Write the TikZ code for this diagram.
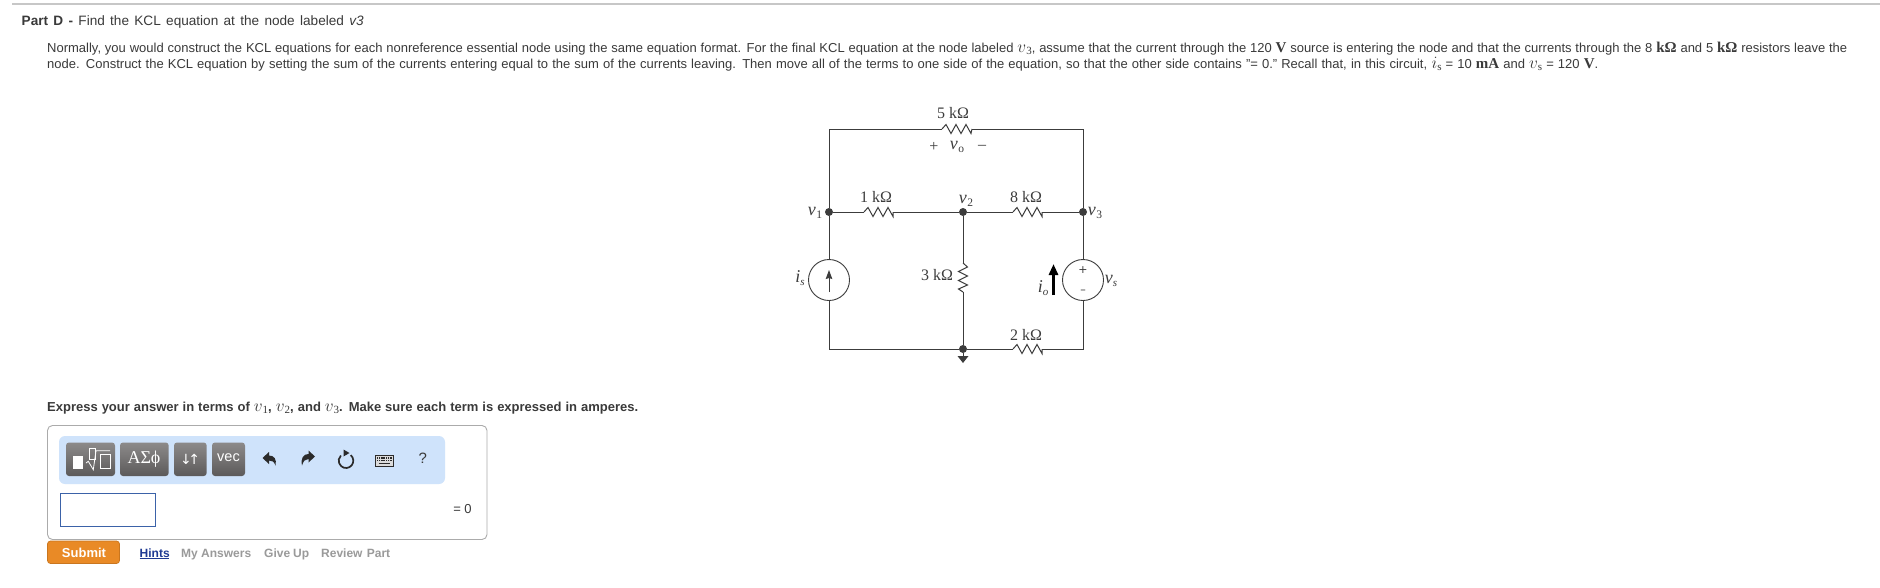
\documentclass[tikz,border=0pt]{standalone}
\usepackage{fontspec}
\setmainfont{Liberation Sans}
\newfontfamily\cirfont{Liberation Serif}
\newfontfamily\symfont{DejaVu Sans}
\usetikzlibrary{arrows.meta}
\DeclareMathSizes{16}{17.28}{12}{10}
\definecolor{bodyc}{HTML}{3A3A3A}
\definecolor{wirec}{HTML}{3C3C3C}
\definecolor{barc}{HTML}{CFE3FB}
\definecolor{frame}{HTML}{ABABAB}
\definecolor{btnT}{HTML}{8C8A8A}
\definecolor{btnB}{HTML}{5C5A5A}
\definecolor{inpc}{HTML}{3B62A8}
\definecolor{subc}{HTML}{E98A26}
\definecolor{subb}{HTML}{C9761F}
\definecolor{linkc}{HTML}{1F3A93}
\definecolor{greyt}{HTML}{9A9A9A}
\definecolor{iconc}{HTML}{2B2B2B}
\newcommand{\fs}[1]{\fontsize{#1}{#1}\selectfont}
\newcommand{\bse}[1]{{\cirfont\bfseries\fs{15}#1}}
\newcommand{\mv}[1]{{\fs{16}$#1$}}
\newcommand{\rsub}[1]{\raisebox{-3pt}{\cirfont\upshape\fs{11.5}#1}}
\newcommand{\isub}[1]{\raisebox{-3pt}{\cirfont\itshape\fs{11}#1}}
\newcommand{\msub}[1]{\raisebox{-2.5pt}{\cirfont\upshape\mdseries\fs{11}#1}}
\newcommand{\zigH}[2]{\draw[wire] (#1) -- ++(4,-4.5) -- ++(5,9) -- ++(5,-9) -- ++(5,9) -- ++(5,-9) -- ++(5,9) -- (#2);}
\newcommand{\zigV}[2]{\draw[wire] (#1) -- ++(4.5,4) -- ++(-9,4.5) -- ++(9,4.5) -- ++(-9,4.5) -- ++(9,4.5) -- ++(-9,4) -- (#2);}
\tikzset{
  x=1pt,y=-1pt,
  txt/.style={inner sep=0pt,anchor=base west,text=bodyc},
  wire/.style={draw=wirec,line width=1pt,line join=miter},
  dotn/.style={circle,fill=wirec,inner sep=0pt,minimum size=8pt},
  srcn/.style={circle,draw=wirec,line width=0.9pt,inner sep=0pt,minimum size=41pt},
  lab/.style={inner sep=0pt,text=wirec,font=\cirfont\fs{16}},
  vlab/.style={inner sep=0pt,text=wirec,font=\cirfont\itshape\fs{18}},
  btn/.style={rounded corners=3pt,top color=btnT,bottom color=btnB,draw=none},
  action/.style={txt,font=\bfseries\fs{12},text=greyt},
}
\begin{document}
\begin{tikzpicture}
\useasboundingbox (0,0) rectangle (1880,587);
\fill[white] (0,0) rectangle (1880,587);
% top rule
\draw[line width=2pt,draw=black!22] (12,4) -- (1880,4);
% headings
\node[txt] (head) at (21.5,25.5) {\fs{13.6}\makebox[342pt][s]{\bfseries Part D -\ \mdseries Find the KCL equation at the node labeled \itshape v3}};
\node[txt] (l1) at (47,52) {\fs{13}\makebox[1800pt][s]{Normally, you would construct the KCL equations for each nonreference essential node using the same equation format. For the final KCL equation at the node labeled \mv{v}\msub{3}, assume that the current through the 120 \bse{V} source is entering the node and that the currents through the 8 \bse{kΩ} and 5 \bse{kΩ} resistors leave the}};
\node[txt] (l2) at (47,68) {\fs{13}\makebox[1551pt][s]{node. Construct the KCL equation by setting the sum of the currents entering equal to the sum of the currents leaving. Then move all of the terms to one side of the equation, so that the other side contains "= 0." Recall that, in this circuit, \mv{i}\msub{s} = 10 \bse{mA} and \mv{v}\msub{s} = 120 \bse{V}.}};
% circuit
\coordinate (tl) at (829,129);
\coordinate (tr) at (1083,129);
\coordinate (bl) at (829,349);
\coordinate (br) at (1083,349);
\node[dotn] (n1) at (829,212) {};
\node[dotn] (n2) at (963,212) {};
\node[dotn] (n3) at (1083,212) {};
\node[dotn] (n0) at (963,349) {};
\node[srcn] (is) at (829,280) {};
\node[srcn] (vs) at (1083,280) {};
\coordinate (r5a) at (942,129); \coordinate (r5b) at (972,129);
\coordinate (r1a) at (864,212); \coordinate (r1b) at (893,212);
\coordinate (r8a) at (1013,212); \coordinate (r8b) at (1042,212);
\coordinate (r2a) at (1013,349); \coordinate (r2b) at (1042,349);
\coordinate (r3a) at (963,263); \coordinate (r3b) at (963,292);
\draw[wire] (n1) -- (tl) -- (r5a);
\zigH{r5a}{r5b}
\draw[wire] (r5b) -- (tr) -- (n3);
\draw[wire] (n1) -- (r1a);
\zigH{r1a}{r1b}
\draw[wire] (r1b) -- (n2) -- (r8a);
\zigH{r8a}{r8b}
\draw[wire] (r8b) -- (n3);
\draw[wire] (n2) -- (r3a);
\zigV{r3a}{r3b}
\draw[wire] (r3b) -- (n0);
\draw[wire] (n1) -- (is);
\draw[wire] (is) -- (bl) -- (n0) -- (r2a);
\zigH{r2a}{r2b}
\draw[wire] (r2b) -- (br) -- (vs);
\draw[wire] (vs) -- (n3);
% ground
\coordinate (gnd) at (963,363);
\draw[wire] (n0) -- (963,356);
\fill[wirec] (957.5,356) -- (968.5,356) -- (gnd) -- cycle;
% source arrows
\coordinate (isa) at (829,292); \coordinate (isb) at (829,270);
\draw[wirec,line width=0.9pt,-{Stealth[length=9pt,width=6.5pt,inset=1pt]}] (isa) -- (isb);
\coordinate (ioa) at (1053.5,295); \coordinate (iob) at (1053.5,264);
\draw[black,line width=3.6pt,-{Stealth[length=11pt,width=9pt,inset=0pt]}] (ioa) -- (iob);
\node[lab,font=\symfont\fs{11}] (vp) at (1083,270) {+};
\node[lab,font=\symfont\fs{11}] (vm) at (1083,292) {\textendash};
% labels
\node[lab] (t5) at (953,113) {5 kΩ};
\node[lab] (t1) at (876,197) {1 kΩ};
\node[lab] (t8) at (1026,197) {8 kΩ};
\node[lab] (t3) at (937,275.5) {3 kΩ};
\node[lab] (t2) at (1026,335) {2 kΩ};
\node[lab] (pl) at (934,147) {+};
\node[vlab] (vo) at (957,147) {v\kern0.5pt\rsub{o}};
\node[lab] (mi) at (982,147) {\textendash};
\node[vlab] (lv1) at (815,212.5) {v\kern0.5pt\rsub{1}};
\node[vlab] (lv2) at (966,201) {v\kern0.5pt\rsub{2}};
\node[vlab] (lv3) at (1095,213) {v\kern0.5pt\rsub{3}};
\node[vlab] (lis) at (800,278.5) {i\isub{s}};
\node[vlab] (lvs) at (1111,280.5) {v\isub{s}};
\node[vlab] (lio) at (1043,288) {i\isub{o}};
% express line
\node[txt] (expr) at (47,411) {\fs{13}\makebox[591pt][s]{\bfseries Express your answer in terms of \mv{v}\msub{1}, \mv{v}\msub{2}, and \mv{v}\msub{3}. Make sure each term is expressed in amperes.}};
% answer box
\draw[frame,line width=0.9pt,rounded corners=5pt,fill=white] (47.5,425.5) rectangle (487,539.5);
\fill[barc,rounded corners=6pt] (59,436) rectangle (445,484);
\path[btn] (66,442.5) rectangle (115,476);
\path[btn] (120,442.5) rectangle (168.7,476);
\path[btn] (174,442.5) rectangle (206.7,476);
\path[btn] (212,442.5) rectangle (245,476);
% button 1 glyphs
\fill[white] (72.7,456) rectangle (83,469);
\draw[white,line width=0.7pt] (89,448) rectangle (95,459.5);
\draw[white,line width=0.8pt] (86,463) -- (88.3,461.3) -- (93.3,469.7) -- (96,450.7) -- (110,450.7);
\draw[white,line width=0.7pt] (100,454.7) rectangle (110,468.7);
\node[inner sep=0pt,text=white,font=\cirfont\fs{18}] (gr) at (144,459) {ΑΣϕ};
\node[inner sep=0pt,text=white,font=\symfont\fs{14}] (ud) at (190,459.5) {↓\kern-3.5pt↑};
\node[inner sep=0pt,text=white,font=\fs{14.5}] (vc) at (228.5,458) {vec};
% undo
\fill[iconc] (262.5,458) -- (269,452) -- (269,455.5) .. controls (274,455.5) and (277,459) .. (275.5,465.5) .. controls (274,461.5) and (272,460.5) .. (269,460.5) -- (269,464) -- cycle;
% redo
\fill[iconc] (315,456.5) -- (308.5,450.5) -- (308.5,454) .. controls (303.5,454) and (300.5,458) .. (302,465.5) .. controls (303.5,460.5) and (305.5,459) .. (308.5,459) -- (308.5,462.5) -- cycle;
% reset
\draw[iconc,line width=1.7pt] (350.7,455.1) arc[start angle=-50,end angle=225,radius=7.3];
\fill[iconc] (343.5,449.5) -- (343.5,456.5) -- (349.5,453) -- cycle;
% keyboard
\draw[iconc,line width=0.8pt,fill=black!14] (375,455.5) rectangle (393.5,466);
\foreach \yy in {458,460.3}{\draw[iconc,line width=1.1pt,dash pattern=on 1.2pt off 0.6pt] (377,\yy) -- (391.5,\yy);}
\draw[iconc,line width=1.1pt] (378.5,463.2) -- (390,463.2);
\node[inner sep=0pt,text=bodyc,font=\fs{15}] (qm) at (422.7,458.5) {?};
% input
\draw[inpc,line width=0.9pt,fill=white] (60.5,493.5) rectangle (155.5,526.5);
\node[inner sep=0pt,text=bodyc,font=\fs{13}] (eq) at (462.5,509.5) {= 0};
% actions
\draw[subb,line width=0.7pt,fill=subc,rounded corners=3pt] (47.5,541) rectangle (119.5,563.5);
\node[inner sep=0pt,text=white,font=\bfseries\fs{13}] (sub) at (84,553) {Submit};
\node[action,text=linkc] (hint) at (139.5,557) {\makebox[29.5pt][s]{Hints}};
\draw[linkc,line width=0.7pt] (139.5,558.5) -- (169,558.5);
\node[action] (my) at (181,557) {\makebox[70pt][s]{My Answers}};
\node[action] (give) at (264,557) {\makebox[45pt][s]{Give Up}};
\node[action] (rev) at (321,557) {\makebox[69pt][s]{Review Part}};
\end{tikzpicture}
\end{document}
